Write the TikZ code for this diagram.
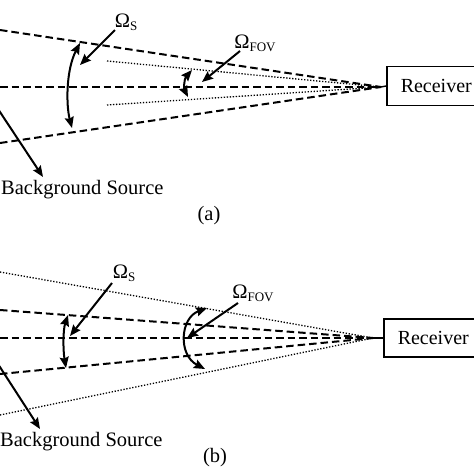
\documentclass[tikz,border=0pt]{standalone}
\usepackage{fontspec}
\setmainfont{Liberation Serif}
\usetikzlibrary{arrows.meta}
\newcommand{\sublbl}[1]{\raisebox{-3pt}{\fontsize{13}{13}\selectfont #1}}
\begin{document}
\begin{tikzpicture}[x=1pt,y=-1pt,
  ray/.style={line width=2pt,dash pattern=on 7.5pt off 4pt},
  fovray/.style={line width=1.3pt,dash pattern=on 1.3pt off 1.7pt},
  pointer/.style={line width=2pt,-{Stealth[length=11pt,width=9pt,inset=1.5pt]}},
  span/.style={line width=2pt,{Stealth[length=11pt,width=9pt,inset=1.5pt]}-{Stealth[length=11pt,width=9pt,inset=1.5pt]}},
  rxbox/.style={draw,line width=1.5pt,anchor=west,minimum height=39pt,inner xsep=14pt,inner ysep=0pt,font=\fontsize{20}{20}\selectfont},
  lbl/.style={font=\fontsize{20.5}{20.5}\selectfont,inner sep=0pt}]
\useasboundingbox (0,0) rectangle (474,474);
% ---------- panel (a) ----------
\coordinate (Ca) at (381,87);
\node[rxbox] (Ra) at (386,86) {Receiver};
\coordinate (a0) at (0,87);
\coordinate (a1) at (0,30);
\coordinate (a2) at (0,143);
\coordinate (a3) at (107,61);
\coordinate (a4) at (107,105);
\draw[ray] (a0) -- (Ca);
\draw[ray] (a1) -- (Ca);
\draw[ray] (a2) -- (Ca);
\draw[fovray] (a3) -- (Ca);
\draw[fovray] (a4) -- (Ca);
\draw[line width=1.4pt] (Ca) -- (Ra.west);
\coordinate (sa1) at (80,43);
\coordinate (sa2) at (72,128);
\draw[span] (sa1) .. controls (66,70) and (66,105) .. (sa2);
\coordinate (fa1) at (192,70);
\coordinate (fa2) at (188,97);
\draw[span] (fa1) .. controls (184,79) and (184,89) .. (fa2);
\node[lbl] (OSa) at (126,22) {Ω\sublbl{S}};
\coordinate (OSat) at (80,65);
\draw[pointer] (115,30) -- (OSat);
\node[lbl] (OFa) at (255,43) {Ω\sublbl{FOV}};
\coordinate (OFat) at (202,82);
\draw[pointer] (240,51) -- (OFat);
\node[lbl,anchor=west] (BGa) at (1,190) {Background Source};
\coordinate (bga0) at (-2,109);
\coordinate (bga1) at (43,177);
\draw[pointer] (bga0) -- (bga1);
\node[lbl] (capa) at (209,216) {(a)};
% ---------- panel (b) ----------
\coordinate (Cb) at (373,338);
\node[rxbox,minimum height=38pt] (Rb) at (383,338) {Receiver};
\coordinate (b0) at (0,338);
\coordinate (b1) at (0,310);
\coordinate (b2) at (0,374);
\coordinate (b3) at (0,272);
\coordinate (b4) at (0,415);
\draw[ray] (b0) -- (Cb);
\draw[ray] (b1) -- (Cb);
\draw[ray] (b2) -- (Cb);
\draw[fovray] (b3) -- (Cb);
\draw[fovray] (b4) -- (Cb);
\draw[line width=1.4pt] (Cb) -- (Rb.west);
\coordinate (sb1) at (68,315);
\coordinate (sb2) at (66,368);
\draw[span] (sb1) .. controls (63,330) and (63,350) .. (sb2);
\coordinate (fb1) at (207,308);
\coordinate (fb2) at (205,369);
\draw[span] (fb1) .. controls (180,318) and (178,355) .. (fb2);
\node[lbl] (OSb) at (124,273) {Ω\sublbl{S}};
\coordinate (OSbt) at (70,336);
\draw[pointer] (112,283) -- (OSbt);
\node[lbl] (OFb) at (253,293) {Ω\sublbl{FOV}};
\coordinate (OFbt) at (187,338);
\draw[pointer] (238,303) -- (OFbt);
\node[lbl,anchor=west] (BGb) at (0,442) {Background Source};
\coordinate (bgb0) at (-2,364);
\coordinate (bgb1) at (40,429);
\draw[pointer] (bgb0) -- (bgb1);
\node[lbl] (capb) at (215,458) {(b)};
\end{tikzpicture}
\end{document}
